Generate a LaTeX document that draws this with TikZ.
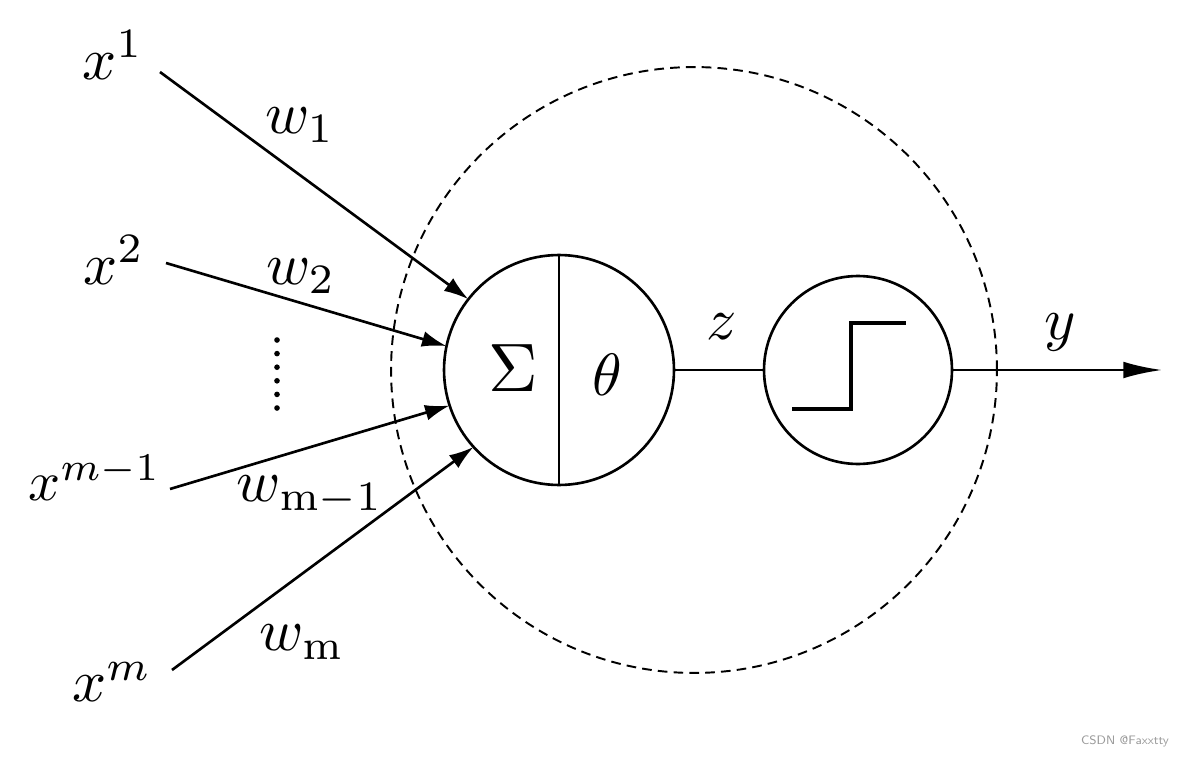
\documentclass[tikz,border=0pt]{standalone}
\usepackage{xcolor}
\usepackage{tikz}
\usetikzlibrary{arrows.meta}
\definecolor{markgray}{HTML}{9A9A9A}

\begin{document}
\begin{tikzpicture}[x=0.02cm,y=-0.02cm,
  every node/.style={inner sep=0pt},
  lbl/.style={scale=3.4},
  unit/.style={circle,draw,line width=1.5pt,outer sep=0pt},
  wire/.style={line width=1.5pt},
  arrin/.style={wire,-{Latex[length=14pt,width=9pt]}}]
  \useasboundingbox (0,0) rectangle (1183,757);
  % neuron boundary
  \draw[line width=1.1pt,dash pattern=on 5.5pt off 3.5pt] (694,370) circle[radius=6.06cm];
  \node[unit,minimum size=4.6cm] (sum) at (559,370) {};
  \node[unit,minimum size=3.76cm] (act) at (858,370) {};
  \draw[wire] (sum.north) -- (sum.south);
  \node[scale=3.9] (sigma) at (513,368) {$\Sigma$};
  \node[lbl] (theta) at (607,375) {$\theta$};
  % inputs
  \node[lbl] (x1) at (113,55) {$x^{1}$};
  \node[lbl] (x2) at (114,260) {$x^{2}$};
  \node[lbl,scale=0.94,anchor=east] (xm1) at (162,478) {$x^{m{-}1}$};
  \node[lbl] (xm) at (112,682) {$x^{m}$};
  \coordinate (in1) at (160,72);
  \coordinate (in2) at (166,263);
  \coordinate (inm1) at (170,489);
  \coordinate (inm) at (172,670);
  \draw[arrin] (in1) -- (sum.142);
  \draw[arrin] (in2) -- (sum.168);
  \draw[arrin] (inm1) -- (sum.198);
  \draw[arrin] (inm) -- (sum.222);
  \node[lbl] (w1) at (300,125) {$w_{1}$};
  \node[lbl] (w2) at (301,276) {$w_{2}$};
  \node[lbl] (wm1) at (310,496) {$w_{\mathrm{m}{-}1}$};
  \node[lbl] (wm) at (302,642) {$w_{\mathrm{m}}$};
  \foreach \y in {340,353.6,...,409} \fill (277,\y) circle[radius=1.6pt];
  % activation
  \draw[wire] (sum.east) -- (act.west);
  \node[lbl] (z) at (722,327) {$z$};
  \draw[line width=1.8pt] (792,409) -- (851,409) -- (851,323) -- (906,323);
  \coordinate (out) at (1162,370);
  \draw[wire,-{Latex[length=22pt,width=9.5pt]}] (act.east) -- (out);
  \node[lbl] (y) at (1060,332) {$y$};
  \node[font=\sffamily\scriptsize,text=markgray] (mark) at (1125,741) {CSDN @Faxxtty};
\end{tikzpicture}
\end{document}
